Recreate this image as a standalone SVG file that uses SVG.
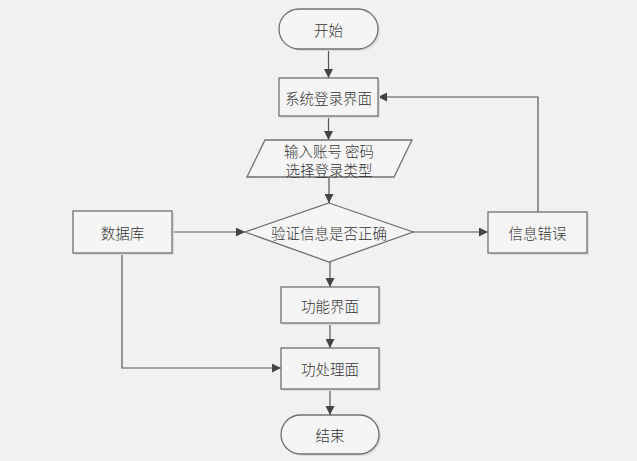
<svg xmlns="http://www.w3.org/2000/svg" width="637" height="461" viewBox="0 0 637 461">
<style>
.shape{fill:#f5f5f5;stroke:#707070;stroke-width:1.3}
.shadow{fill:#dcdcdc;stroke:none}
.lbl{font-family:"Noto Sans CJK SC","Noto Sans",sans-serif;font-size:14.5px;font-weight:300;fill:#333;text-anchor:middle;dominant-baseline:central}
.conn{fill:none;stroke:#555;stroke-width:1.2}
</style>
<defs>
<marker id="arr" viewBox="0 0 10 10" refX="10" refY="5" markerWidth="9" markerHeight="9" markerUnits="userSpaceOnUse" orient="auto">
<path d="M0,0 L10,5 L0,10 z" fill="#444"/>
</marker>
</defs>
<rect x="0" y="0" width="637" height="461" fill="#f1f1f1"/>
<g id="connectors">
<path class="conn" d="M328.5,49 V78" marker-end="url(#arr)"/>
<path class="conn" d="M328.5,116 V140" marker-end="url(#arr)"/>
<path class="conn" d="M329,177 V203" marker-end="url(#arr)"/>
<path class="conn" d="M172,232 H245" marker-end="url(#arr)"/>
<path class="conn" d="M413,232 H488" marker-end="url(#arr)"/>
<path class="conn" d="M538,212 V97 H378" marker-end="url(#arr)"/>
<path class="conn" d="M330,262 V287" marker-end="url(#arr)"/>
<path class="conn" d="M330,323 V348" marker-end="url(#arr)"/>
<path class="conn" d="M122,253 V368 H281" marker-end="url(#arr)"/>
<path class="conn" d="M330,389 V415" marker-end="url(#arr)"/>
</g>
<g id="start">
<rect class="shadow" x="281" y="11" width="99" height="40" rx="20"/>
<rect class="shape" x="279" y="9" width="99" height="40" rx="20"/>
<text class="lbl" x="328.5" y="29">开始</text>
</g>
<g id="login">
<rect class="shadow" x="281" y="80" width="99" height="38"/>
<rect class="shape" x="279" y="78" width="99" height="38"/>
<text class="lbl" x="328.5" y="97">系统登录界面</text>
</g>
<g id="input">
<polygon class="shape" points="265,140 412,140 394,177 247,177"/>
<text class="lbl" x="329" y="150">输入账号 密码</text>
<text class="lbl" x="329" y="169">选择登录类型</text>
</g>
<g id="verify">
<polygon class="shape" points="329,203 413,232 329,262 245,232"/>
<text class="lbl" x="329" y="232">验证信息是否正确</text>
</g>
<g id="database">
<rect class="shadow" x="75" y="213" width="99" height="42"/>
<rect class="shape" x="73" y="211" width="99" height="42"/>
<text class="lbl" x="122.5" y="232">数据库</text>
</g>
<g id="error">
<rect class="shadow" x="490" y="214" width="99" height="41"/>
<rect class="shape" x="488" y="212" width="99" height="41"/>
<text class="lbl" x="537.5" y="232.5">信息错误</text>
</g>
<g id="function">
<rect class="shadow" x="283" y="289" width="98" height="36"/>
<rect class="shape" x="281" y="287" width="98" height="36"/>
<text class="lbl" x="330" y="305">功能界面</text>
</g>
<g id="process">
<rect class="shadow" x="283" y="350" width="98" height="41"/>
<rect class="shape" x="281" y="348" width="98" height="41"/>
<text class="lbl" x="330" y="368.5">功处理面</text>
</g>
<g id="end">
<rect class="shadow" x="283" y="417" width="98" height="39" rx="19.5"/>
<rect class="shape" x="281" y="415" width="98" height="39" rx="19.5"/>
<text class="lbl" x="330" y="434.5">结束</text>
</g>
</svg>
